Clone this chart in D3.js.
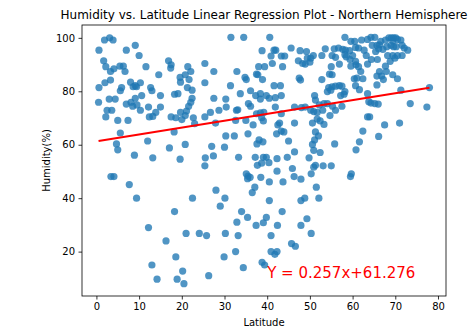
<!DOCTYPE html>
<html>
<head>
<meta charset="utf-8">
<script src="https://cdn.jsdelivr.net/npm/d3@7"></script>
<style>
  body { margin: 0; background: #fff; }
  svg { display: block; font-family: "DejaVu Sans", sans-serif; }
</style>
</head>
<body>
<div id="chart"></div>
<script>
// [latitude, humidity] per northern hemisphere city
var cities = [
  [1.9,99.2],[3.1,100],[3.9,99.2],[0.6,95.4],[7.0,95.4],[9.1,97.2],[10.0,93.4],[1.7,91.4],[16.9,91.4],[2.2,89.2],
  [4.1,88.4],[3.3,87.4],[5.5,89.4],[6.3,89.4],[6.7,87.4],[11.6,89.2],[17.4,88.7],[17.5,89.9],[21.4,89.2],[22.1,87.4],
  [3.3,84.2],[14.6,86.2],[19.6,85.2],[20.8,86.2],[19.7,83.4],[8.0,83.4],[9.1,82.1],[10.3,83.2],[21.7,84.4],[0.6,81.4],
  [2.0,83.2],[5.9,81.4],[5.6,80.2],[8.6,81.7],[9.4,81.7],[12.7,81.4],[13.0,80.2],[21.3,81.4],[22.4,80.4],[3.0,77.1],
  [4.4,77.1],[7.0,75.2],[8.1,75.9],[9.1,77.4],[10.6,78.4],[15.0,78.4],[18.3,78.9],[19.1,79.1],[22.4,77.4],[0.5,75.9],
  [8.5,74.4],[9.5,74.9],[12.2,74.1],[15.0,74.1],[2.5,72.9],[3.6,72.9],[10.3,72.9],[13.9,72.1],[21.6,74.4],[22.1,75.9],
  [21.1,72.6],[2.2,70.4],[13.2,70.6],[12.4,70.4],[5.0,69.1],[7.4,69.1],[17.5,70.4],[18.6,70.1],[19.7,72.1],[20.8,70.9],
  [20.0,69.4],[22.7,70.1],[23.0,67.9],[18.2,64.8],[5.6,64.4],[4.7,60.3],[5.0,58.1],[12.0,61.4],[17.1,58.8],[20.8,60.1],
  [8.9,56.1],[19.6,54.6],
  [13.2,55.1],[25.5,55.1],[27.4,55.8],[25.4,52.1],[3.4,48.1],[4.1,48.1],[7.7,45.1],[9.4,40.0],[22.5,40.0],[28.0,43.0],
  [30.1,40.0],[29.0,37.0],[18.3,35.0],[12.2,29.0],[21.0,26.8],[24.1,26.8],[25.8,26.0],[30.2,26.8],[16.3,24.0],[18.6,18.0],
  [29.9,18.0],[13.0,15.0],[20.2,12.7],[26.3,11.0],[14.2,9.7],[18.9,9.7],[20.5,8.0],
  [31.5,100.2],[34.5,100.2],[40.6,100.2],[38.8,95.2],[41.6,95.4],[42.0,95.4],[40.9,93.2],[43.3,93.2],[44.1,93.2],[45.6,96.2],
  [47.7,95.2],[49.2,94.9],[47.3,91.4],[48.3,90.4],[48.9,90.2],[41.2,90.4],[43.6,89.2],[38.0,89.2],[39.4,89.2],[25.4,90.4],
  [27.5,87.4],[32.9,87.4],[34.8,85.2],[35.1,84.4],[37.5,86.4],[37.8,86.2],[38.9,84.4],[47.5,84.9],[47.8,84.2],[25.4,83.2],
  [31.4,82.1],[41.6,82.1],[43.1,82.1],[33.7,79.1],[36.1,80.2],[37.3,78.4],[38.4,79.1],[39.8,78.4],[40.5,77.4],[41.9,77.6],
  [43.3,78.4],[38.4,77.1],[27.5,77.4],[30.3,77.1],[35.6,75.4],[36.1,74.4],[30.4,74.1],[28.7,72.9],[26.7,72.1],[25.4,70.4],
  [32.8,72.9],[33.1,73.1],[38.4,71.9],[39.2,72.1],[41.9,74.1],[43.3,71.6],[46.4,74.1],[48.0,73.9],[48.9,74.1],[37.5,71.6],
  [27.9,68.1],[32.6,69.1],[35.0,69.1],[36.7,67.4],[39.1,68.9],[38.7,70.1],[42.5,67.4],[42.9,68.1],[46.4,68.1],[42.2,64.1],
  [43.3,65.1],[43.9,64.8],[35.5,64.1],[30.3,63.3],[32.3,63.3],[38.1,61.8],[39.0,61.1],[37.6,60.3],[45.0,61.4],[27.0,59.4],
  [30.0,59.1],[46.4,57.3],[33.3,55.3],[37.2,55.3],[39.1,55.3],[39.8,55.3],[42.3,54.8],[44.7,55.3],
  [49.8,55.1],[37.7,52.3],[38.7,53.1],[40.4,53.3],[42.3,50.1],[45.9,51.1],[46.3,48.1],[47.9,47.1],[50.3,49.1],[50.9,51.6],
  [51.3,52.3],[53.1,52.1],[55.0,52.1],[59.7,49.1],[59.5,48.1],[35.1,49.1],[35.5,48.3],[35.4,47.3],[36.0,47.8],[38.5,47.8],
  [40.5,46.1],[43.7,46.1],[37.1,44.1],[36.5,42.1],[51.5,44.1],[52.1,40.0],[47.9,39.1],[48.8,40.0],[40.5,39.1],[34.0,35.0],
  [35.4,32.8],[43.5,35.0],[39.8,32.8],[39.1,30.8],[37.4,29.8],[42.4,29.8],[32.9,31.0],[47.9,29.8],[49.3,32.3],[33.2,26.0],
  [40.9,26.0],[50.3,26.8],[45.7,23.0],[46.6,22.0],[32.6,20.0],[40.9,20.0],[41.8,19.0],[42.3,20.0],[34.4,14.0],[38.8,16.0],
  [39.4,15.0],
  [58.2,100.2],[59.6,98.7],[60.5,98.7],[62.1,99.2],[63.5,99.4],[64.3,100.2],[65.2,100.2],[66.6,98.7],[67.7,99.2],[68.5,100],
  [69.1,100],[69.6,100],[70.1,100],[70.5,99.4],[71.3,99.2],[69.4,98.9],[60.7,96.4],[61.4,96.2],[62.7,95.4],[64.6,97.2],
  [65.7,97.2],[66.3,97.4],[68.0,96.7],[69.0,97.2],[69.6,96.7],[70.2,96.7],[71.6,97.2],[72.1,96.2],[72.9,95.4],[53.6,95.9],
  [55.7,95.9],[56.7,96.2],[57.7,95.7],[58.3,95.4],[59.3,95.2],[50.8,93.4],[52.8,93.4],[55.2,93.4],[56.0,92.7],[58.2,93.7],
  [58.5,92.9],[60.0,93.4],[63.2,93.4],[65.4,94.9],[66.1,95.9],[67.1,95.7],[68.2,93.4],[69.4,93.4],[70.5,93.4],[71.6,93.4],
  [49.4,92.4],[50.2,92.4],[50.0,90.9],[56.9,90.2],[55.0,89.2],[59.4,91.9],[60.7,91.2],[59.6,89.4],[60.8,89.9],[61.4,89.2],
  [63.5,90.2],[64.4,91.9],[65.8,91.9],[67.7,89.4],[66.3,87.4],[68.8,91.2],[69.9,92.4],[54.6,86.4],[55.2,86.2],[52.8,84.4],
  [61.9,87.4],[60.4,84.7],[61.0,84.9],[62.4,84.7],[65.7,85.7],[66.8,85.7],[67.9,87.4],[69.4,86.2],[70.5,84.7],[54.4,81.4],
  [55.2,81.7],[56.0,81.9],[56.9,82.1],[57.5,81.9],[54.1,79.9],[54.9,80.4],[57.2,78.4],[58.2,79.9],[58.0,78.9],[60.7,82.1],
  [61.6,80.6],[63.5,79.1],[65.7,82.4],[67.2,84.4],[71.3,80.4],[78.0,81.4],[51.1,78.4],[51.3,76.7],[52.2,74.9],[53.3,75.4],
  [54.1,75.4],[55.3,74.4],[57.5,74.4],[63.8,76.1],[64.3,75.6],[65.2,75.4],[66.0,75.2],[73.5,75.4],[77.4,74.1],[50.2,72.9],
  [50.9,72.4],[51.7,72.1],[53.0,72.9],[56.0,72.9],[54.7,70.9],[51.7,69.6],[52.4,68.9],[50.6,68.1],[53.3,67.6],[63.5,70.4],
  [64.0,70.4],[67.5,67.4],[71.0,68.1],[51.3,64.8],[52.0,63.3],[62.4,65.1],[66.1,63.1],[51.1,61.8],[50.6,60.1],[61.6,61.1],
  [50.9,57.9],[52.4,57.1],[55.8,60.3],[60.8,58.1]
];

var SLOPE = 0.257, INTERCEPT = 61.276;
var xTicks = [0, 10, 20, 30, 40, 50, 60, 70, 80];
var yTicks = [20, 40, 60, 80, 100];
var TITLE = "Humidity vs. Latitude Linear Regression Plot - Northern Hemisphere";
var EQ_AT = [40, 10]; // where the equation text sits, data coords

var WIDTH = 474, HEIGHT = 333;
var margin = {top: 25, right: 28, bottom: 37, left: 82};
var plotW = WIDTH - margin.left - margin.right;
var plotH = HEIGHT - margin.top - margin.bottom;

// matplotlib style 5% padding round the data
var xExt = d3.extent(cities, function(d){return d[0]});
var yExt = d3.extent(cities, function(d){return d[1]});
var xPad = (xExt[1]-xExt[0])*0.05, yPad = (yExt[1]-yExt[0])*0.05;

var x = d3.scaleLinear().domain([xExt[0]-xPad, xExt[1]+xPad]).range([0, plotW]);
var y = d3.scaleLinear().domain([yExt[0]-yPad, yExt[1]+yPad]).range([plotH, 0]);

var svg = d3.select("#chart").append("svg")
    .attr("width", WIDTH)
    .attr("height", HEIGHT);

svg.append("text")
    .attr("x", margin.left + plotW/2)
    .attr("y", 19)
    .attr("text-anchor", "middle")
    .style("font-size", "12px")
    .text(TITLE);

var g = svg.append("g").attr("transform", "translate(" + margin.left + "," + margin.top + ")");

g.selectAll("circle.city")
    .data(cities)
    .enter().append("circle")
    .attr("class", "city")
    .attr("cx", function(d){return x(d[0])})
    .attr("cy", function(d){return y(d[1])})
    .attr("r", 3.6)
    .attr("fill", "#1f77b4")
    .attr("fill-opacity", 0.78);

g.append("line")
    .attr("x1", x(xExt[0]))
    .attr("y1", y(SLOPE*xExt[0] + INTERCEPT))
    .attr("x2", x(xExt[1]))
    .attr("y2", y(SLOPE*xExt[1] + INTERCEPT))
    .attr("stroke", "red")
    .attr("stroke-width", 2);

g.append("text")
    .attr("x", x(EQ_AT[0]))
    .attr("y", y(EQ_AT[1]))
    .attr("fill", "red")
    .style("font-size", "15px")
    .text("Y = " + SLOPE + "x+" + INTERCEPT);

var xAxis = d3.axisBottom(x).tickValues(xTicks).tickSize(3.5).tickPadding(3.5);
var yAxis = d3.axisLeft(y).tickValues(yTicks).tickSize(3.5).tickPadding(3.5);

g.append("g").attr("transform", "translate(0," + plotH + ")").call(xAxis)
    .call(function(a){ a.select(".domain").remove(); });
g.append("g").call(yAxis)
    .call(function(a){ a.select(".domain").remove(); });
g.selectAll(".tick text").style("font-size", "10px").attr("fill", "#000").style("font-family", "DejaVu Sans");
g.selectAll(".tick line").attr("stroke", "#000").attr("stroke-width", 0.8);

g.append("rect")
    .attr("width", plotW)
    .attr("height", plotH)
    .attr("fill", "none")
    .attr("stroke", "#000")
    .attr("stroke-width", 0.8);

svg.append("text")
    .attr("x", margin.left + plotW/2)
    .attr("y", 326)
    .attr("text-anchor", "middle")
    .style("font-size", "10px")
    .text("Latitude");

svg.append("text")
    .attr("transform", "translate(50," + (margin.top + plotH/2) + ") rotate(-90)")
    .attr("text-anchor", "middle")
    .style("font-size", "10px")
    .text("Humidity(%)");
</script>
</body>
</html>
